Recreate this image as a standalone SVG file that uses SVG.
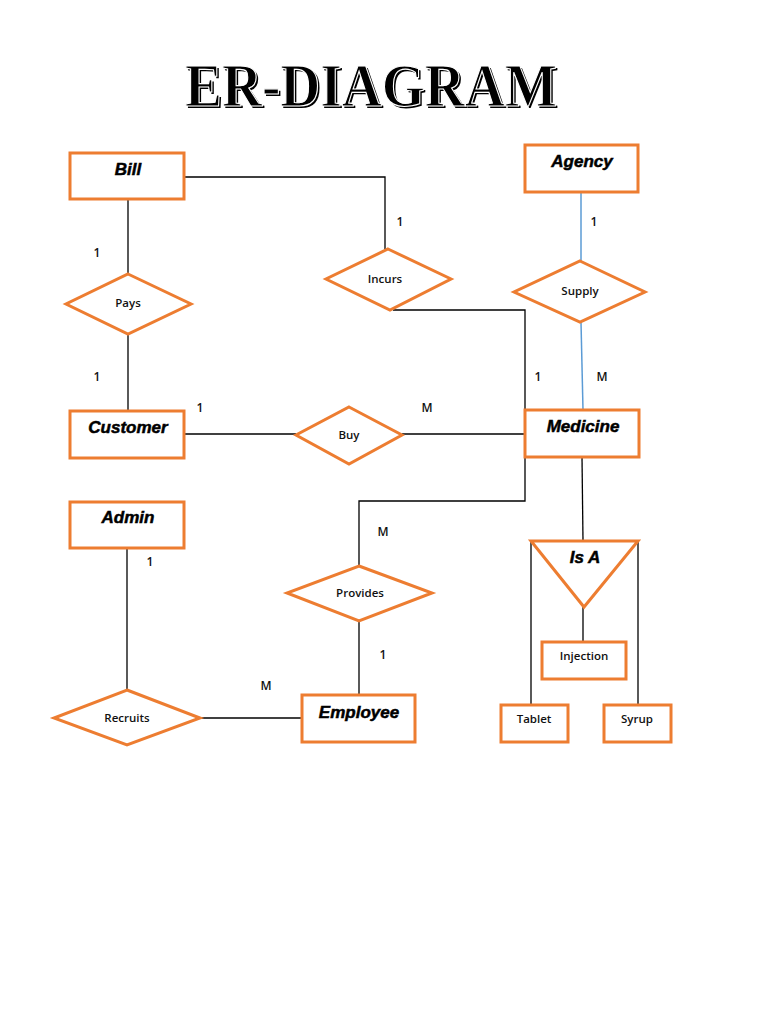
<svg xmlns="http://www.w3.org/2000/svg" width="768" height="1024" viewBox="0 0 768 1024">
<defs>
<style>
.ent{fill:#fff;stroke:#ED7D31;stroke-width:3}
.rel{fill:#fff;stroke:#ED7D31;stroke-width:3;stroke-linejoin:miter}
.en{font-family:"Liberation Sans",Arial,sans-serif;font-weight:bold;font-style:italic;font-size:17px;fill:#000;stroke:#000;stroke-width:0.5;text-anchor:middle}
.lb{font-family:"Open Sans","Liberation Sans",sans-serif;font-weight:600;font-size:11.5px;fill:#111;text-anchor:middle}
.num{font-family:"Open Sans","Liberation Sans",sans-serif;font-weight:600;font-size:12px;fill:#111;text-anchor:middle;dominant-baseline:central}
.ln{fill:none;stroke:#000;stroke-width:1.3}
.bl{fill:none;stroke:#5B9BD5;stroke-width:1.5}
.title{font-family:"Liberation Serif","Times New Roman",serif;font-weight:bold;font-size:62px;text-anchor:middle}
</style>
</defs>
<rect width="768" height="1024" fill="#fff"/>
<g id="title">
<text class="title" x="373" y="108" textLength="372" lengthAdjust="spacingAndGlyphs" fill="#000">ER-DIAGRAM</text>
<text class="title" x="371" y="106" textLength="372" lengthAdjust="spacingAndGlyphs" fill="#000" stroke="#fff" stroke-width="1.2">ER-DIAGRAM</text>
</g>
<g id="connectors">
<polyline class="ln" points="184,177 385,177 385,249"/>
<line class="ln" x1="128" y1="199" x2="128" y2="274"/>
<line class="ln" x1="128" y1="334" x2="128" y2="411"/>
<polyline class="ln" points="393,310 525,310 525,410"/>
<line class="bl" x1="581" y1="192" x2="581" y2="261"/>
<line class="bl" x1="581" y1="322" x2="583" y2="410"/>
<line class="ln" x1="184" y1="434" x2="296" y2="434"/>
<line class="ln" x1="402" y1="434" x2="525" y2="434"/>
<polyline class="ln" points="525,457 525,501 359,501 359,566"/>
<line class="ln" x1="359" y1="621" x2="359" y2="695"/>
<line class="ln" x1="127" y1="548" x2="127" y2="690"/>
<line class="ln" x1="200" y1="718" x2="302" y2="718"/>
<line class="ln" x1="582" y1="457" x2="583" y2="541"/>
<line class="ln" x1="583" y1="607" x2="583" y2="642"/>
<line class="ln" x1="531" y1="541" x2="531" y2="705"/>
<line class="ln" x1="638" y1="541" x2="638" y2="705"/>
</g>
<g id="labels">
<text class="num" x="97" y="252">1</text>
<text class="num" x="97" y="376">1</text>
<text class="num" x="400" y="221">1</text>
<text class="num" x="594" y="221">1</text>
<text class="num" x="538" y="376">1</text>
<text class="num" x="602" y="376">M</text>
<text class="num" x="200" y="407">1</text>
<text class="num" x="427" y="407">M</text>
<text class="num" x="383" y="531">M</text>
<text class="num" x="150" y="561">1</text>
<text class="num" x="383" y="654">1</text>
<text class="num" x="266" y="685">M</text>
</g>
<g id="bill"><rect class="ent" x="70" y="153" width="114" height="46"/><text class="en" x="128" y="175">Bill</text></g>
<g id="agency"><rect class="ent" x="525" y="145" width="113" height="47"/><text class="en" x="582" y="167">Agency</text></g>
<g id="pays"><polygon class="rel" points="128,274 191,304 128,334 66,304"/><text class="lb" x="128" y="307">Pays</text></g>
<g id="incurs"><polygon class="rel" points="388,249 451,279 390,310 326,279"/><text class="lb" x="385" y="283">Incurs</text></g>
<g id="supply"><polygon class="rel" points="580,261 645,292 580,322 514,292"/><text class="lb" x="580" y="295">Supply</text></g>
<g id="customer"><rect class="ent" x="70" y="411" width="114" height="47"/><text class="en" x="128" y="433">Customer</text></g>
<g id="buy"><polygon class="rel" points="349,407 402,435 349,464 296,435"/><text class="lb" x="349" y="439">Buy</text></g>
<g id="medicine"><rect class="ent" x="525" y="410" width="114" height="47"/><text class="en" x="583" y="432">Medicine</text></g>
<g id="admin"><rect class="ent" x="70" y="502" width="114" height="46"/><text class="en" x="128" y="523">Admin</text></g>
<g id="provides"><polygon class="rel" points="359,566 432,593 359,621 287,593"/><text class="lb" x="360" y="597">Provides</text></g>
<g id="recruits"><polygon class="rel" points="127,690 200,718 127,745 54,718"/><text class="lb" x="127" y="722">Recruits</text></g>
<g id="employee"><rect class="ent" x="302" y="695" width="113" height="47"/><text class="en" x="359" y="718">Employee</text></g>
<g id="isa"><polygon class="rel" points="531,541 638,541 584,607"/><text class="en" x="585" y="563">Is A</text></g>
<g id="injection"><rect class="ent" x="542" y="642" width="84" height="37"/><text class="lb" x="584" y="660">Injection</text></g>
<g id="tablet"><rect class="ent" x="501" y="705" width="67" height="37"/><text class="lb" x="534" y="723">Tablet</text></g>
<g id="syrup"><rect class="ent" x="604" y="705" width="67" height="37"/><text class="lb" x="637" y="723">Syrup</text></g>
</svg>
